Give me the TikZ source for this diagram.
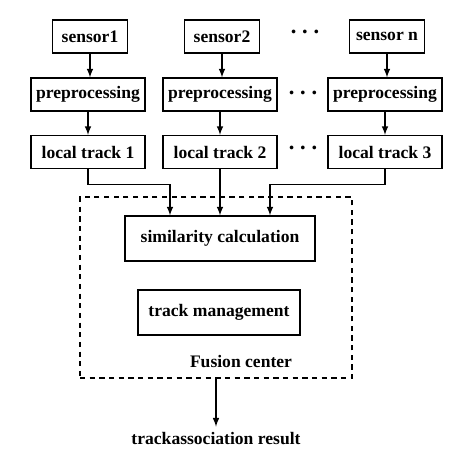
\documentclass[tikz,border=0pt]{standalone}
\usepackage{fontspec}
\setmainfont{Liberation Serif}
\usetikzlibrary{positioning}

\begin{document}
\begin{tikzpicture}[x=0.02cm,y=-0.02cm,
		every node/.style={font=\fontsize{10}{12}\selectfont\bfseries},
		box/.style={draw,line width=0.7pt,inner sep=0pt},
		sbox/.style={box,minimum width=1.5cm,minimum height=0.66cm},
		pbox/.style={box,minimum width=2.28cm,minimum height=0.66cm},
		dots/.style={font=\fontsize{13}{14}\selectfont\bfseries},
		arr/.style={line width=0.7pt,-latex}]
		\useasboundingbox (0,0) rectangle (474,454);
		% sensors
		\node[sbox] (s1) at (90,36.5) {sensor1};
		\node[sbox] (s2) at (222,36.5) {sensor2};
		\node[sbox] (sn) at (387,36.5) {sensor n};
		\node[dots] (d1) at (305,35) {·\,·\,·};
		% preprocessing
		\node[pbox] (p1) at (88,94.5) {preprocessing};
		\node[pbox] (p2) at (220,94.5) {preprocessing};
		\node[pbox] (p3) at (385,94.5) {preprocessing};
		\node[dots] (d2) at (303,96) {·\,·\,·};
		% local tracks
		\node[pbox] (t1) at (88,152) {local track 1};
		\node[pbox] (t2) at (220,152) {local track 2};
		\node[pbox] (t3) at (385,152) {local track 3};
		\node[dots] (d3) at (303,151) {·\,·\,·};
		% fusion center
		\node[draw,line width=0.7pt,dash pattern=on 3pt off 2.5pt,minimum width=5.44cm,minimum height=3.62cm] (fc) at (216,287.5) {};
		\node[box,minimum width=3.8cm,minimum height=0.9cm] (sim) at (220,238.5) {similarity calculation};
		\node[box,minimum width=3.24cm,minimum height=0.9cm] (mgmt) at (219,312.5) {track management};
		\node (fclabel) at (241,362) {Fusion center};
		\node (res) at (216,439) {trackassociation result};
		% connections
		\draw[arr] (s1) -- (p1.north -| s1);
		\draw[arr] (s2) -- (p2.north -| s2);
		\draw[arr] (sn) -- (p3.north -| sn);
		\draw[arr] (p1) -- (t1);
		\draw[arr] (p2) -- (t2);
		\draw[arr] (p3) -- (t3);
		\draw[arr] (t1.south) -- ++(0,15) -| ([xshift=-1cm]sim.north);
		\draw[arr] (t2.south) -- (sim.north);
		\draw[arr] (t3.south) -- ++(0,15) -| ([xshift=1cm]sim.north);
		\draw[arr] (fc.south) -- (res.north);
\end{tikzpicture}
\end{document}
